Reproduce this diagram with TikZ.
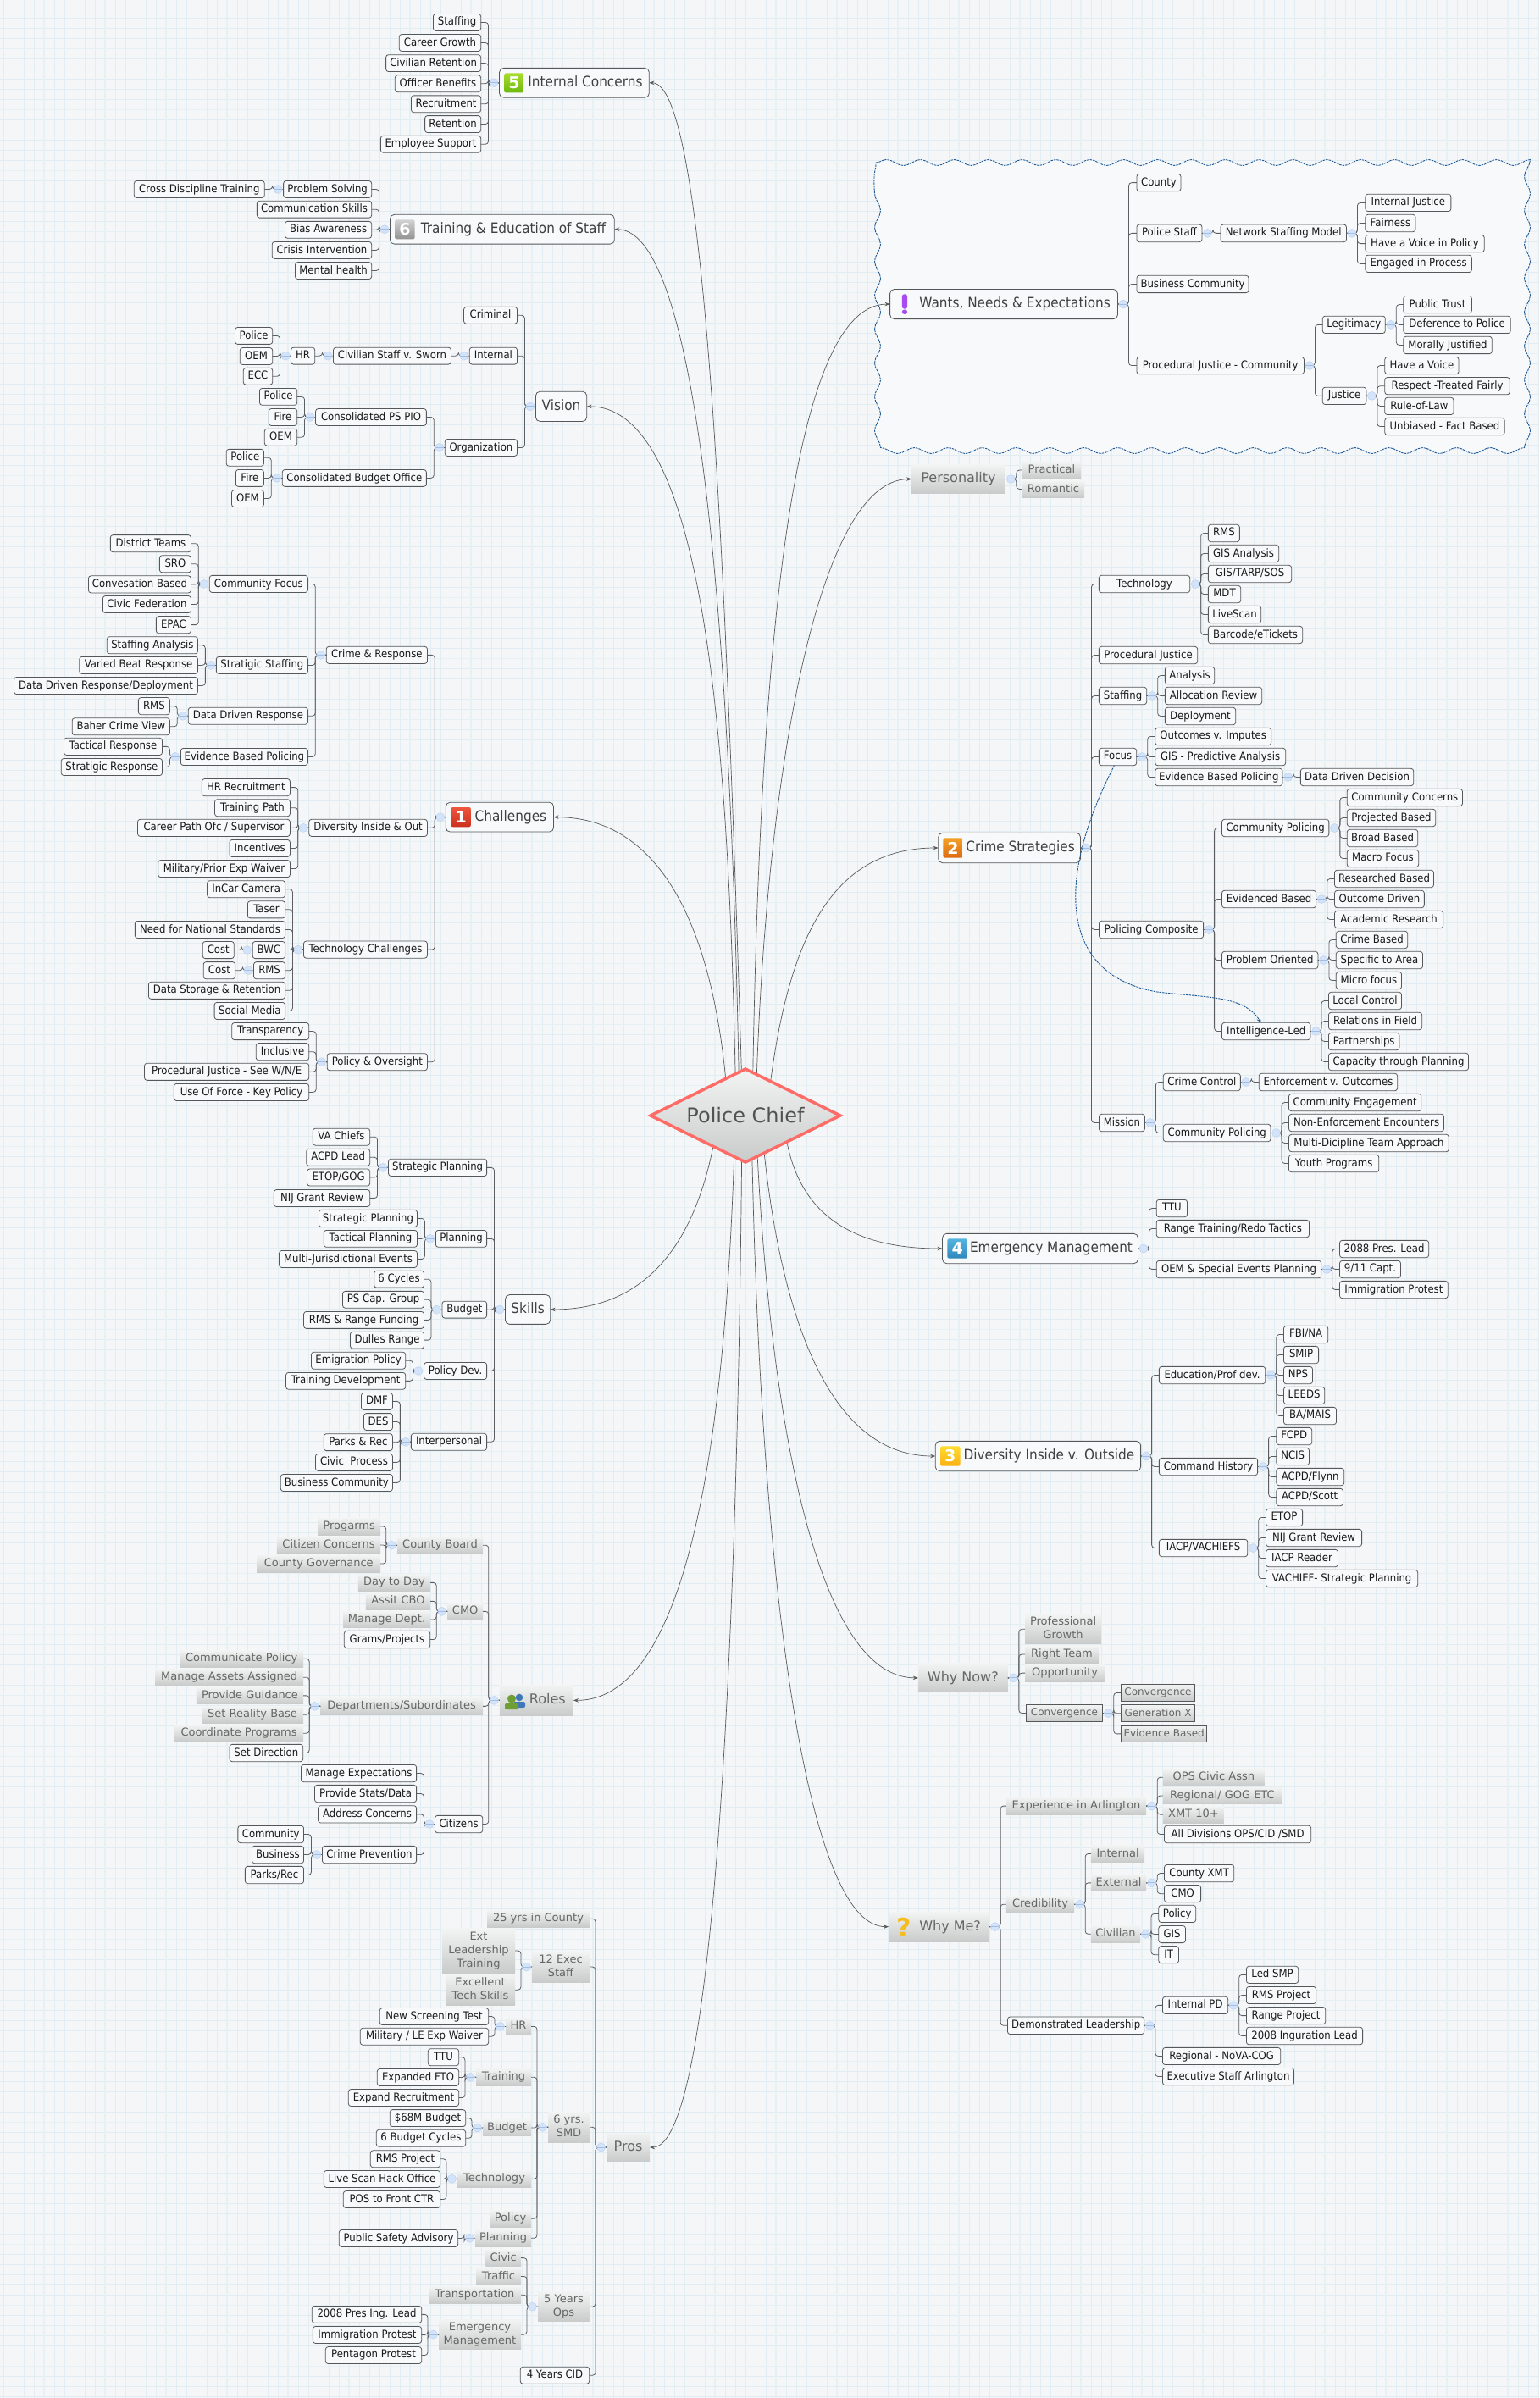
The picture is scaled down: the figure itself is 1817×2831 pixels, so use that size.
\documentclass[tikz,border=0pt]{standalone}
\usepackage{fontspec}
\usetikzlibrary{shapes.geometric,arrows.meta,calc,decorations.pathmorphing}
\setmainfont{DejaVu Sans}
\newfontfamily\tah[FakeStretch=0.9]{DejaVu Sans}
\newfontfamily\ver{DejaVu Sans}
\definecolor{bgc}{HTML}{F4F6F8}
\definecolor{gmin}{HTML}{E2EDF3}
\definecolor{gmaj}{HTML}{E7F0F5}
\definecolor{lnk}{HTML}{5C5F62}
\definecolor{cur}{HTML}{5A5A5A}
\definecolor{bdr}{HTML}{55585A}
\definecolor{gtx}{HTML}{666666}
\definecolor{gtop}{HTML}{F2F3F3}
\definecolor{gbot}{HTML}{C9CACA}
\definecolor{mfill}{HTML}{D3E3FA}
\definecolor{mdraw}{HTML}{BED3F2}
\definecolor{mbar}{HTML}{A3BFE4}
\definecolor{dsh}{HTML}{1F5A96}
\definecolor{chf}{HTML}{FF6B66}
\definecolor{exc}{HTML}{A64CF0}
\definecolor{grT}{HTML}{A8DC2C}\definecolor{grB}{HTML}{6DB80E}
\definecolor{gyT}{HTML}{D2D2D2}\definecolor{gyB}{HTML}{929292}
\definecolor{rdT}{HTML}{EE563F}\definecolor{rdB}{HTML}{CB301E}
\definecolor{orT}{HTML}{F5A025}\definecolor{orB}{HTML}{DC6A12}
\definecolor{blT}{HTML}{55B4DF}\definecolor{blB}{HTML}{2F88BD}
\definecolor{ylT}{HTML}{FFDC30}\definecolor{ylB}{HTML}{FAB012}
\definecolor{qmk}{HTML}{F6BC20}
\definecolor{pgn}{HTML}{6F9E35}\definecolor{pbl}{HTML}{3F78B8}
\tikzset{
  blk/.style={draw=bdr,line width=.8pt,rounded corners=3pt,fill=white!30!bgc,inner sep=0pt,outer sep=0pt,text=black!90,
     font=\tah\fontsize{13}{15}\selectfont,execute at begin node=\vphantom{Ag}},
  gry/.style={top color=gtop,bottom color=gbot,inner sep=0pt,outer sep=0pt,text=gtx,align=center,
     font=\ver\fontsize{13}{16}\selectfont,execute at begin node=\vphantom{Ag}},
  sqb/.style={gry,draw=bdr,line width=.8pt,font=\ver\fontsize{12}{14}\selectfont},
  tpb/.style={blk,font=\tah\fontsize{17}{20}\selectfont,text=black!75,rounded corners=5pt},
  tpg/.style={gry,font=\ver\fontsize{16}{19}\selectfont},
  numic/.style={rounded corners=2pt,inner sep=0pt,outer sep=0pt,text=white,font=\ver\bfseries\fontsize{19}{20}\selectfont},
  exic/.style={rounded corners=2.5pt,fill=exc,inner sep=0pt,outer sep=0pt},
  lk/.style={draw=lnk,line width=.8pt,rounded corners=3.5pt},
  mc/.style={circle,minimum size=10pt,inner sep=0pt,fill=mfill,draw=mdraw,line width=.5pt,
     path picture={\draw[mbar,line width=.8pt] (path picture bounding box.west) -- (path picture bounding box.east);}},
  curve/.style={draw=cur,line width=.7pt,-{Stealth[length=6pt,width=4.5pt]}},
}
\newcommand\setzoom[4]{\def\zX{#1}\def\zY{#2}\def\zSX{#3}\def\zSY{#4}}
\newcommand\bn[7]{%
  \pgfmathsetmacro\nXa{\zX+#3/\zSX}\pgfmathsetmacro\nXb{\zX+#4/\zSX}%
  \pgfmathsetmacro\nYa{\zY+#5/\zSY}\pgfmathsetmacro\nYb{\zY+#6/\zSY}%
  \pgfmathsetmacro\nW{\nXb-\nXa}\pgfmathsetmacro\nH{\nYb-\nYa}%
  \node[#1,minimum width=\nW pt,minimum height=\nH pt] (#2) at ({(\nXa+\nXb)/2},{(\nYa+\nYb)/2}) {#7};}
\newcommand\tl[2]{%
  \foreach \kid in {#2}{\draw[lk] (#1.west) -- ++(-13,0) |- (\kid.east);}%
  \node[mc] at ($(#1.west)+(-6.5,0)$) {};}
\newcommand\tr[2]{%
  \foreach \kid in {#2}{\draw[lk] (#1.east) -- ++(13,0) |- (\kid.west);}%
  \node[mc] at ($(#1.east)+(6.5,0)$) {};}
\newcommand\ico{\hspace*{26pt}}
\pgfdeclarelayer{back}
\pgfsetlayers{back,main}
\begin{document}
\begin{tikzpicture}[x=1pt,y=-1pt]
\useasboundingbox (0,0) rectangle (1817,2831);
\begin{pgfonlayer}{back}
\fill[bgc] (0,0) rectangle (1817,2831);
\foreach \gx in {4.33,16.33,...,1817}{\draw[gmin,line width=.6pt] (\gx,0) -- (\gx,2831);}
\foreach \gy in {9.67,21.67,...,2831}{\draw[gmin,line width=.6pt] (0,\gy) -- (1817,\gy);}
\foreach \gx in {52,124,...,1817}{\draw[gmaj,line width=1.4pt] (\gx,0) -- (\gx,2831);}
\foreach \gy in {57.67,129.67,...,2831}{\draw[gmaj,line width=1.4pt] (0,\gy) -- (1817,\gy);}
\draw[dsh,line width=.9pt,dash pattern=on 2.5pt off 1pt,fill=white!30!bgc,
      decorate,decoration={snake,segment length=40pt,amplitude=3.5pt}]
  (1034,192) -- (1794,192) -- (1794,526) -- (1034,526) -- cycle;
\end{pgfonlayer}

\node[diamond,aspect=2,inner sep=0pt,outer sep=0pt,minimum width=224pt,minimum height=110pt,draw=chf,line width=3.5pt,
  top color=gtop,bottom color=gbot,text=black!68,font=\ver\fontsize{24}{28}\selectfont] (chief) at (880,1317) {Police Chief};

% ---------- Internal Concerns / Training / Vision
\setzoom{140}{0}{2.24}{2.6133}
\bn{tpb}{ic}{1007}{1403}{210}{301}{\ico Internal Concerns}
\bn{numic,top color=grT,bottom color=grB}{ici}{1020}{1072}{226}{286}{5}
\bn{blk}{ic1}{832}{958}{43}{95}{Staffing}
\bn{blk}{ic2}{742}{958}{106}{158}{Career Growth}
\bn{blk}{ic3}{707}{958}{169}{221}{Civilian Retention}
\bn{blk}{ic4}{731}{958}{232}{284}{Officer Benefits}
\bn{blk}{ic5}{774}{958}{295}{347}{Recruitment}
\bn{blk}{ic6}{810}{958}{357}{409}{Retention}
\bn{blk}{ic7}{693}{958}{419}{471}{Employee Support}
\tl{ic}{ic1,ic2,ic3,ic4,ic5,ic6,ic7}
\bn{tpb}{te}{718}{1311}{662}{753}{\ico Training \& Education of Staff}
\bn{numic,top color=gyT,bottom color=gyB}{tei}{731}{783}{678}{738}{6}
\bn{blk}{te1}{436}{669}{558}{610}{Problem Solving}
\bn{blk}{te1a}{41}{386}{558}{610}{Cross Discipline Training}
\bn{blk}{te2}{366}{669}{620}{672}{Communication Skills}
\bn{blk}{te3}{440}{669}{683}{735}{Bias Awareness}
\bn{blk}{te4}{406}{669}{746}{798}{Crisis Intervention}
\bn{blk}{te5}{467}{669}{809}{861}{Mental health}
\tl{te}{te1,te2,te3,te4,te5}
\tl{te1}{te1a}
\bn{tpb}{vi}{1103}{1238}{1208}{1300}{Vision}
\bn{blk}{vi1}{913}{1054}{947}{999}{Criminal}
\bn{blk}{vi2}{928}{1054}{1072}{1124}{Internal}
\bn{blk}{vi2a}{568}{879}{1072}{1124}{Civilian Staff v. Sworn}
\bn{blk}{vi2b}{456}{519}{1072}{1124}{HR}
\bn{blk}{vi2c}{308}{407}{1010}{1062}{Police}
\bn{blk}{vi2d}{321}{407}{1073}{1125}{OEM}
\bn{blk}{vi2e}{330}{407}{1135}{1187}{ECC}
\bn{blk}{vi3}{863}{1054}{1355}{1407}{Organization}
\bn{blk}{vi3a}{521}{814}{1261}{1313}{Consolidated PS PIO}
\bn{blk}{vi3b}{373}{472}{1198}{1250}{Police}
\bn{blk}{vi3c}{397}{472}{1261}{1313}{Fire}
\bn{blk}{vi3d}{386}{472}{1323}{1375}{OEM}
\bn{blk}{vi4}{433}{814}{1449}{1501}{Consolidated Budget Office}
\bn{blk}{vi4a}{285}{384}{1386}{1438}{Police}
\bn{blk}{vi4b}{310}{384}{1449}{1501}{Fire}
\bn{blk}{vi4c}{299}{384}{1512}{1564}{OEM}
\tl{vi}{vi1,vi2,vi3}
\tl{vi2}{vi2a}\tl{vi2a}{vi2b}\tl{vi2b}{vi2c,vi2d,vi2e}
\tl{vi3}{vi3a,vi4}\tl{vi3a}{vi3b,vi3c,vi3d}\tl{vi4}{vi4a,vi4b,vi4c}

% ---------- Challenges
\setzoom{0}{620}{2.24}{2.24}
\bn{tpb}{ch}{1179}{1464}{733}{811}{\ico Challenges}
\bn{numic,top color=rdT,bottom color=rdB}{chi}{1193}{1245}{746}{798}{1}
\bn{blk}{c1}{863}{1130}{321}{366}{Crime \& Response}
\bn{blk}{c1a}{554}{814}{133}{178}{Community Focus}
\bn{blk}{c1a1}{292}{505}{26}{71}{District Teams}
\bn{blk}{c1a2}{422}{505}{80}{125}{SRO}
\bn{blk}{c1a3}{234}{505}{134}{179}{Convesation Based}
\bn{blk}{c1a4}{272}{505}{187}{232}{Civic Federation}
\bn{blk}{c1a5}{413}{505}{241}{286}{EPAC}
\bn{blk}{c1b}{572}{814}{348}{393}{Stratigic Staffing}
\bn{blk}{c1b1}{283}{523}{295}{340}{Staffing Analysis}
\bn{blk}{c1b2}{210}{523}{348}{393}{Varied Beat Response}
\bn{blk}{c1b3}{37}{523}{402}{447}{Data Driven Response/Deployment}
\bn{blk}{c1c}{498}{814}{482}{527}{Data Driven Response}
\bn{blk}{c1c1}{366}{449}{456}{501}{RMS}
\bn{blk}{c1c2}{191}{449}{510}{555}{Baher Crime View}
\bn{blk}{c1d}{478}{814}{590}{635}{Evidence Based Policing}
\bn{blk}{c1d1}{169}{429}{563}{608}{Tactical Response}
\bn{blk}{c1d2}{162}{429}{617}{662}{Stratigic Response}
\bn{blk}{c2}{817}{1130}{778}{823}{Diversity Inside \& Out}
\bn{blk}{c2a}{534}{767}{671}{716}{HR Recruitment}
\bn{blk}{c2b}{568}{767}{725}{770}{Training Path}
\bn{blk}{c2c}{364}{767}{778}{823}{Career Path Ofc / Supervisor}
\bn{blk}{c2d}{607}{767}{832}{877}{Incentives}
\bn{blk}{c2e}{418}{767}{886}{931}{Military/Prior Exp Waiver}
\bn{blk}{c3}{803}{1130}{1100}{1145}{Technology Challenges}
\bn{blk}{c3a}{548}{754}{940}{985}{InCar Camera}
\bn{blk}{c3b}{655}{754}{994}{1039}{Taser}
\bn{blk}{c3c}{357}{754}{1047}{1092}{Need for National Standards}
\bn{blk}{c3d}{668}{754}{1101}{1146}{BWC}
\bn{blk}{c3d1}{536}{619}{1101}{1146}{Cost}
\bn{blk}{c3e}{671}{754}{1155}{1200}{RMS}
\bn{blk}{c3e1}{538}{622}{1155}{1200}{Cost}
\bn{blk}{c3f}{393}{754}{1208}{1253}{Data Storage \& Retention}
\bn{blk}{c3g}{567}{754}{1262}{1307}{Social Media}
\bn{blk}{c4}{865}{1130}{1397}{1442}{Policy \& Oversight}
\bn{blk}{c4a}{613}{817}{1316}{1361}{Transparency}
\bn{blk}{c4b}{677}{817}{1370}{1415}{Inclusive}
\bn{blk}{c4c}{382}{817}{1423}{1468}{Procedural Justice - See W/N/E}
\bn{blk}{c4d}{460}{817}{1477}{1522}{Use Of Force - Key Policy}
\tl{ch}{c1,c2,c3,c4}
\tl{c1}{c1a,c1b,c1c,c1d}
\tl{c1a}{c1a1,c1a2,c1a3,c1a4,c1a5}\tl{c1b}{c1b1,c1b2,c1b3}\tl{c1c}{c1c1,c1c2}\tl{c1d}{c1d1,c1d2}
\tl{c2}{c2a,c2b,c2c,c2d,c2e}
\tl{c3}{c3a,c3b,c3c,c3d,c3e,c3f,c3g}\tl{c3d}{c3d1}\tl{c3e}{c3e1}
\tl{c4}{c4a,c4b,c4c,c4d}

% ---------- Skills
\setzoom{180}{1320}{2.24}{2.6133}
\bn{tpb}{sk}{933}{1052}{545}{636}{Skills}
\bn{blk}{s1}{624}{884}{126}{179}{Strategic Planning}
\bn{blk}{s1a}{424}{575}{32}{84}{VA Chiefs}
\bn{blk}{s1b}{407}{575}{95}{147}{ACPD Lead}
\bn{blk}{s1c}{409}{575}{157}{209}{ETOP/GOG}
\bn{blk}{s1d}{321}{575}{221}{273}{NIJ Grant Review}
\bn{blk}{s2}{749}{884}{346}{398}{Planning}
\bn{blk}{s2a}{440}{700}{283}{336}{Strategic Planning}
\bn{blk}{s2b}{453}{700}{346}{398}{Tactical Planning}
\bn{blk}{s2c}{335}{700}{409}{461}{Multi-Jurisdictional Events}
\bn{blk}{s3}{766}{884}{565}{617}{Budget}
\bn{blk}{s3a}{586}{718}{471}{523}{6 Cycles}
\bn{blk}{s3b}{503}{718}{534}{586}{PS Cap. Group}
\bn{blk}{s3c}{400}{718}{597}{649}{RMS \& Range Funding}
\bn{blk}{s3d}{523}{718}{659}{711}{Dulles Range}
\bn{blk}{s4}{718}{884}{754}{806}{Policy Dev.}
\bn{blk}{s4a}{420}{669}{722}{774}{Emigration Policy}
\bn{blk}{s4b}{353}{669}{785}{837}{Training Development}
\bn{blk}{s5}{684}{884}{973}{1025}{Interpersonal}
\bn{blk}{s5a}{552}{635}{848}{900}{DMF}
\bn{blk}{s5b}{559}{635}{911}{963}{DES}
\bn{blk}{s5c}{453}{635}{974}{1026}{Parks \& Rec}
\bn{blk}{s5d}{431}{635}{1036}{1088}{Civic\ \ Process}
\bn{blk}{s5e}{339}{635}{1099}{1151}{Business Community}
\tl{sk}{s1,s2,s3,s4,s5}
\tl{s1}{s1a,s1b,s1c,s1d}\tl{s2}{s2a,s2b,s2c}\tl{s3}{s3a,s3b,s3c,s3d}\tl{s4}{s4a,s4b}\tl{s5}{s5a,s5b,s5c,s5d,s5e}

% ---------- Roles
\bn{gry}{r1a}{437}{603}{1233}{1286}{Progarms}
\setzoom{180}{1810}{2.24}{3}
\bn{tpg}{ro}{918}{1113}{539}{645}{\ico Roles}
\bn{gry}{r1}{647}{874}{13}{72}{County Board}
\bn{gry}{r1b}{329}{603}{12}{72}{Citizen Concerns}
\bn{gry}{r1c}{276}{603}{78}{138}{County Governance}
\bn{gry}{r2}{780}{874}{248}{306}{CMO}
\bn{gry}{r2a}{544}{735}{146}{204}{Day to Day}
\bn{gry}{r2b}{564}{735}{212}{270}{Assit CBO}
\bn{gry}{r2c}{504}{735}{277}{335}{Manage Dept.}
\bn{blk}{r2d}{507}{734}{346}{407}{Grams/Projects}
\bn{gry}{r3}{444}{874}{583}{643}{Departments/Subordinates}
\bn{gry}{r3a}{72}{399}{415}{474}{Communicate Policy}
\bn{gry}{r3b}{7}{399}{481}{540}{Manage Assets Assigned}
\bn{gry}{r3c}{116}{399}{546}{605}{Provide Guidance}
\bn{gry}{r3d}{130}{399}{613}{672}{Set Reality Base}
\bn{gry}{r3e}{58}{399}{679}{738}{Coordinate Programs}
\bn{blk}{r3f}{204}{398}{748}{809}{Set Direction}
\bn{blk}{r4}{747}{873}{1000}{1061}{Citizens}
\bn{blk}{r4a}{393}{698}{820}{881}{Manage Expectations}
\bn{blk}{r4b}{429}{698}{892}{953}{Provide Stats/Data}
\bn{blk}{r4c}{438}{698}{965}{1026}{Address Concerns}
\bn{blk}{r4d}{449}{698}{1108}{1169}{Crime Prevention}
\bn{blk}{r4d1}{226}{400}{1036}{1097}{Community}
\bn{blk}{r4d2}{263}{400}{1108}{1169}{Business}
\bn{blk}{r4d3}{245}{400}{1180}{1241}{Parks/Rec}
\tl{ro}{r1,r2,r3,r4}
\tl{r1}{r1a,r1b,r1c}\tl{r2}{r2a,r2b,r2c,r2d}\tl{r3}{r3a,r3b,r3c,r3d,r3e,r3f}
\tl{r4}{r4a,r4b,r4c,r4d}\tl{r4d}{r4d1,r4d2,r4d3}
% people icon
\fill[pbl,rounded corners=2pt] (606,2009) rectangle (620,2016);
\fill[pbl] (613,2004) circle (4.3pt);
\fill[pgn,rounded corners=2pt] (596,2011) rectangle (612,2018);
\fill[pgn] (604,2005.5) circle (5pt);

% ---------- Pros
\setzoom{340}{2240}{3}{2.6576}
\bn{tpg}{pr}{1128}{1281}{739}{829}{Pros}
\bn{gry}{p1}{705}{1068}{41}{93}{25 yrs in County}
\bn{gry}{p2}{864}{1068}{170}{266}{12 Exec\\Staff}
\bn{gry}{p2a}{546}{804}{98}{237}{Ext\\Leadership\\Training}
\bn{gry}{p2b}{558}{804}{242}{338}{Excellent\\Tech Skills}
\bn{gry}{p3}{921}{1068}{674}{768}{6 yrs.\\SMD}
\bn{gry}{p3a}{771}{861}{379}{431}{HR}
\bn{blk}{p3a1}{325}{710}{347}{400}{New Screening Test}
\bn{blk}{p3a2}{256}{710}{410}{463}{Military / LE Exp Waiver}
\bn{gry}{p3b}{666}{861}{538}{590}{Training}
\bn{blk}{p3b1}{496}{605}{475}{528}{TTU}
\bn{blk}{p3b2}{316}{605}{538}{591}{Expanded FTO}
\bn{blk}{p3b3}{214}{605}{602}{655}{Expand Recruitment}
\bn{gry}{p3c}{690}{861}{697}{749}{Budget}
\bn{blk}{p3c1}{361}{629}{666}{719}{\$68M Budget}
\bn{blk}{p3c2}{313}{629}{729}{782}{6 Budget Cycles}
\bn{gry}{p3d}{600}{861}{857}{909}{Technology}
\bn{blk}{p3d1}{292}{539}{794}{847}{RMS Project}
\bn{blk}{p3d2}{127}{539}{857}{910}{Live Scan Hack Office}
\bn{blk}{p3d3}{196}{539}{921}{974}{POS to Front CTR}
\bn{gry}{p3e}{714}{861}{982}{1034}{Policy}
\bn{gry}{p3f}{663}{861}{1043}{1095}{Planning}
\bn{blk}{p3f1}{181}{602}{1043}{1096}{Public Safety Advisory}
\bn{gry}{p4}{885}{1068}{1237}{1331}{5 Years\\Ops}
\bn{gry}{p4a}{700}{825}{1105}{1157}{Civic}
\bn{gry}{p4b}{666}{825}{1163}{1215}{Traffic}
\bn{gry}{p4c}{498}{825}{1221}{1273}{Transportation}
\bn{gry}{p4d}{534}{825}{1324}{1419}{Emergency\\Management}
\bn{blk}{p4d1}{85}{473}{1282}{1335}{2008 Pres Ing. Lead}
\bn{blk}{p4d2}{88}{473}{1346}{1399}{Immigration Protest}
\bn{blk}{p4d3}{133}{473}{1410}{1463}{Pentagon Protest}
\bn{blk}{p5}{823}{1067}{1473}{1526}{4 Years CID}
\tl{pr}{p1,p2,p3,p4,p5}
\tl{p2}{p2a,p2b}
\tl{p3}{p3a,p3b,p3c,p3d,p3e,p3f}
\tl{p3a}{p3a1,p3a2}\tl{p3b}{p3b1,p3b2,p3b3}\tl{p3c}{p3c1,p3c2}\tl{p3d}{p3d1,p3d2,p3d3}\tl{p3f}{p3f1}
\tl{p4}{p4a,p4b,p4c,p4d}\tl{p4d}{p4d1,p4d2,p4d3}

% ---------- Wants / Personality
\setzoom{1020}{170}{1.96}{2.9037}
\bn{tpb}{wn}{60}{587}{498}{600}{\ico Wants, Needs \& Expectations}
\bn{exic}{wnb}{88}{100}{515}{565}{}
\bn{exic}{wnd}{88}{100}{568}{583}{}
\bn{blk}{w1}{631}{733}{103}{162}{County}
\bn{blk}{w2}{631}{782}{276}{336}{Police Staff}
\bn{blk}{w2a}{825}{1116}{276}{336}{Network Staffing Model}
\bn{blk}{w2a1}{1160}{1358}{172}{231}{Internal Justice}
\bn{blk}{w2a2}{1160}{1276}{242}{301}{Fairness}
\bn{blk}{w2a3}{1160}{1435}{312}{371}{Have a Voice in Policy}
\bn{blk}{w2a4}{1160}{1406}{381}{440}{Engaged in Process}
\bn{blk}{w3}{631}{890}{451}{510}{Business Community}
\bn{blk}{w4}{631}{1018}{730}{789}{Procedural Justice - Community}
\bn{blk}{w4a}{1061}{1206}{590}{649}{Legitimacy}
\bn{blk}{w4a1}{1248}{1406}{521}{580}{Public Trust}
\bn{blk}{w4a2}{1248}{1496}{590}{649}{Deference to Police}
\bn{blk}{w4a3}{1248}{1453}{660}{719}{Morally Justified}
\bn{blk}{w4b}{1061}{1162}{834}{893}{Justice}
\bn{blk}{w4b1}{1205}{1376}{730}{789}{Have a Voice}
\bn{blk}{w4b2}{1205}{1494}{800}{859}{Respect -Treated Fairly}
\bn{blk}{w4b3}{1205}{1364}{869}{928}{Rule-of-Law}
\bn{blk}{w4b4}{1205}{1482}{939}{998}{Unbiased - Fact Based}
\tr{wn}{w1,w2,w3,w4}
\tr{w2}{w2a}\tr{w2a}{w2a1,w2a2,w2a3,w2a4}
\tr{w4}{w4a,w4b}\tr{w4a}{w4a1,w4a2,w4a3}\tr{w4b}{w4b1,w4b2,w4b3,w4b4}
\bn{tpg}{pe}{110}{327}{1099}{1198}{Personality}
\bn{gry}{pe1}{366}{502}{1090}{1146}{Practical}
\bn{gry}{pe2}{366}{510}{1155}{1211}{Romantic}
\tr{pe}{pe1,pe2}

% ---------- Crime Strategies
\setzoom{1270}{610}{3}{3}
\bn{blk}{g1}{82}{404}{208}{269}{Technology}
\bn{blk}{g1a}{469}{580}{28}{89}{RMS}
\bn{blk}{g1b}{469}{719}{100}{161}{GIS Analysis}
\bn{blk}{g1c}{469}{764}{172}{233}{GIS/TARP/SOS}
\bn{blk}{g1d}{469}{584}{244}{305}{MDT}
\bn{blk}{g1e}{469}{656}{316}{377}{LiveScan}
\bn{blk}{g1f}{469}{803}{388}{449}{Barcode/eTickets}
\bn{blk}{g2}{82}{431}{460}{521}{Procedural Justice}
\bn{blk}{g3}{82}{251}{604}{665}{Staffing}
\bn{blk}{g3a}{316}{491}{532}{593}{Analysis}
\bn{blk}{g3b}{316}{659}{604}{665}{Allocation Review}
\bn{blk}{g3c}{316}{566}{676}{737}{Deployment}
\bn{blk}{fo}{82}{215}{820}{881}{Focus}
\bn{blk}{g4a}{281}{692}{748}{809}{Outcomes v. Imputes}
\bn{blk}{g4b}{281}{743}{820}{881}{GIS - Predictive Analysis}
\bn{blk}{g4c}{281}{732}{892}{953}{Evidence Based Policing}
\bn{blk}{g4d}{796}{1196}{892}{953}{Data Driven Decision}
\setzoom{1080}{900}{2.24}{3}
\bn{tpb}{cs}{62}{438}{250}{356}{\ico Crime Strategies}
\bn{numic,top color=orT,bottom color=orB}{csi}{75}{127}{268}{338}{2}
\bn{blk}{g5}{487}{763}{562}{623}{Policing Composite}
\bn{blk}{g5a}{812}{1095}{202}{263}{Community Policing}
\bn{blk}{g5a1}{1143}{1448}{94}{155}{Community Concerns}
\bn{blk}{g5a2}{1143}{1377}{166}{227}{Projected Based}
\bn{blk}{g5a3}{1143}{1330}{238}{299}{Broad Based}
\bn{blk}{g5a4}{1143}{1332}{310}{371}{Macro Focus}
\bn{blk}{g5b}{812}{1061}{454}{515}{Evidenced Based}
\bn{blk}{g5b1}{1110}{1372}{382}{443}{Researched Based}
\bn{blk}{g5b2}{1110}{1347}{454}{515}{Outcome Driven}
\bn{blk}{g5b3}{1110}{1397}{526}{587}{Academic Research}
\bn{blk}{g5c}{812}{1066}{670}{731}{Problem Oriented}
\bn{blk}{g5c1}{1114}{1303}{598}{659}{Crime Based}
\bn{blk}{g5c2}{1114}{1343}{670}{731}{Specific to Area}
\bn{blk}{g5c3}{1114}{1287}{742}{803}{Micro focus}
\bn{blk}{il}{812}{1046}{922}{983}{Intelligence-Led}
\bn{blk}{g5d1}{1094}{1287}{814}{875}{Local Control}
\bn{blk}{g5d2}{1094}{1341}{886}{947}{Relations in Field}
\bn{blk}{g5d3}{1094}{1281}{958}{1019}{Partnerships}
\bn{blk}{g5d4}{1094}{1464}{1030}{1091}{Capacity through Planning}
\bn{blk}{g6}{487}{608}{1246}{1307}{Mission}
\bn{blk}{g6a}{657}{861}{1102}{1163}{Crime Control}
\bn{blk}{g6a1}{910}{1276}{1102}{1163}{Enforcement v. Outcomes}
\bn{blk}{g6b}{657}{941}{1282}{1343}{Community Policing}
\bn{blk}{g6b1}{989}{1339}{1174}{1235}{Community Engagement}
\bn{blk}{g6b2}{989}{1399}{1246}{1307}{Non-Enforcement Encounters}
\bn{blk}{g6b3}{989}{1412}{1318}{1379}{Multi-Dicipline Team Approach}
\bn{blk}{g6b4}{989}{1227}{1390}{1451}{Youth Programs}
\tr{cs}{g1,g2,g3,fo,g5,g6}
\tr{g1}{g1a,g1b,g1c,g1d,g1e,g1f}\tr{g3}{g3a,g3b,g3c}\tr{fo}{g4a,g4b,g4c}\tr{g4c}{g4d}
\tr{g5}{g5a,g5b,g5c,il}\tr{g5a}{g5a1,g5a2,g5a3,g5a4}\tr{g5b}{g5b1,g5b2,g5b3}\tr{g5c}{g5c1,g5c2,g5c3}\tr{il}{g5d1,g5d2,g5d3,g5d4}
\tr{g6}{g6a,g6b}\tr{g6a}{g6a1}\tr{g6b}{g6b1,g6b2,g6b3,g6b4}
\coordinate (dm) at (1366,1171);
\draw[dsh,line width=.9pt,dash pattern=on 2.5pt off 1pt,-{Stealth[length=6pt,width=5pt]}]
  ($(fo.south)+(-4,0)$) .. controls (1250,1030) and (1245,1150) .. (dm) .. controls (1425,1178) and (1468,1175) .. ($(il.north)+(-6,0)$);

% ---------- Emergency / Diversity
\setzoom{1090}{1390}{2.529}{3}
\bn{tpb}{em}{57}{641}{199}{305}{\ico Emergency Management}
\bn{numic,top color=blT,bottom color=blB}{emi}{72}{131}{217}{287}{4}
\bn{blk}{e1}{696}{788}{79}{140}{TTU}
\bn{blk}{e2}{696}{1152}{151}{212}{Range Training/Redo Tactics}
\bn{blk}{e3}{696}{1188}{295}{356}{OEM \& Special Events Planning}
\bn{blk}{e3a}{1243}{1509}{223}{284}{2088 Pres. Lead}
\bn{blk}{e3b}{1243}{1425}{295}{356}{9/11 Capt.}
\bn{blk}{e3c}{1243}{1566}{367}{428}{Immigration Protest}
\tr{em}{e1,e2,e3}\tr{e3}{e3a,e3b,e3c}
\bn{tpb}{dv}{36}{649}{934}{1040}{\ico Diversity Inside v. Outside}
\bn{numic,top color=ylT,bottom color=ylB}{dvi}{51}{110}{952}{1022}{3}
\bn{blk}{d1}{704}{1021}{670}{731}{Education/Prof dev.}
\bn{blk}{d1a}{1076}{1208}{526}{587}{FBI/NA}
\bn{blk}{d1b}{1076}{1180}{598}{659}{SMIP}
\bn{blk}{d1c}{1076}{1162}{670}{731}{NPS}
\bn{blk}{d1d}{1076}{1198}{742}{803}{LEEDS}
\bn{blk}{d1e}{1076}{1233}{814}{875}{BA/MAIS}
\bn{blk}{d2}{704}{998}{994}{1055}{Command History}
\bn{blk}{d2a}{1054}{1160}{886}{947}{FCPD}
\bn{blk}{d2b}{1054}{1152}{958}{1019}{NCIS}
\bn{blk}{d2c}{1054}{1256}{1030}{1091}{ACPD/Flynn}
\bn{blk}{d2d}{1054}{1253}{1102}{1163}{ACPD/Scott}
\bn{blk}{d3}{704}{968}{1282}{1343}{IACP/VACHIEFS}
\bn{blk}{d3a}{1023}{1132}{1174}{1235}{ETOP}
\bn{blk}{d3b}{1023}{1309}{1246}{1307}{NIJ Grant Review}
\bn{blk}{d3c}{1023}{1238}{1318}{1379}{IACP Reader}
\bn{blk}{d3d}{1023}{1476}{1390}{1451}{VACHIEF- Strategic Planning}
\tr{dv}{d1,d2,d3}\tr{d1}{d1a,d1b,d1c,d1d,d1e}\tr{d2}{d2a,d2b,d2c,d2d}\tr{d3}{d3a,d3b,d3c,d3d}

% ---------- Why Now / Why Me
\setzoom{1040}{1880}{2.529}{2.529}
\bn{tpg}{wy}{111}{379}{212}{298}{Why Now?}
\bn{gry}{y1}{430}{658}{66}{153}{Professional\\Growth}
\bn{gry}{y2}{430}{650}{159}{210}{Right Team}
\bn{gry}{y3}{430}{668}{215}{266}{Opportunity}
\bn{sqb}{y4}{433}{662}{335}{386}{Convergence}
\bn{sqb}{y4a}{717}{937}{274}{325}{Convergence}
\bn{sqb}{y4b}{717}{937}{336}{386}{Generation X}
\bn{sqb}{y4c}{717}{973}{397}{447}{Evidence Based}
\tr{wy}{y1,y2,y3,y4}\tr{y4}{y4a,y4b,y4c}
\bn{tpg}{wm}{23}{324}{954}{1042}{\ico Why Me?}
\bn{inner sep=0pt,text=qmk,font=\ver\bfseries\fontsize{30}{32}\selectfont}{wmi}{45}{90}{968}{1030}{?}
\bn{gry}{m1}{374}{792}{612}{663}{Experience in Arlington}
\bn{gry}{m1a}{842}{1145}{527}{577}{OPS Civic Assn}
\bn{gry}{m1b}{842}{1196}{582}{632}{Regional/ GOG ETC}
\bn{gry}{m1c}{842}{1024}{638}{688}{XMT 10+}
\bn{blk}{m1d}{846}{1284}{696}{748}{All Divisions OPS/CID /SMD}
\bn{gry}{m2}{374}{577}{906}{956}{Credibility}
\bn{gry}{m2a}{627}{787}{755}{805}{Internal}
\bn{gry}{m2b}{627}{792}{842}{892}{External}
\bn{blk}{m2b1}{846}{1054}{813}{864}{County XMT}
\bn{blk}{m2b2}{846}{955}{874}{925}{CMO}
\bn{gry}{m2c}{627}{774}{995}{1045}{Civilian}
\bn{blk}{m2c1}{829}{940}{934}{985}{Policy}
\bn{blk}{m2c2}{829}{909}{995}{1046}{GIS}
\bn{blk}{m2c3}{829}{889}{1056}{1107}{IT}
\bn{blk}{m3}{378}{786}{1267}{1319}{Demonstrated Leadership}
\bn{blk}{m3a}{841}{1036}{1207}{1258}{Internal PD}
\bn{blk}{m3a1}{1091}{1246}{1116}{1167}{Led SMP}
\bn{blk}{m3a2}{1091}{1299}{1177}{1228}{RMS Project}
\bn{blk}{m3a3}{1091}{1327}{1238}{1289}{Range Project}
\bn{blk}{m3a4}{1091}{1438}{1298}{1350}{2008 Inguration Lead}
\bn{blk}{m3b}{841}{1193}{1359}{1410}{Regional - NoVA-COG}
\bn{blk}{m3c}{841}{1233}{1420}{1471}{Executive Staff Arlington}
\tr{wm}{m1,m2,m3}\tr{m1}{m1a,m1b,m1c,m1d}\tr{m2}{m2a,m2b,m2c}\tr{m2b}{m2b1,m2b2}\tr{m2c}{m2c1,m2c2,m2c3}
\tr{m3}{m3a,m3b,m3c}\tr{m3a}{m3a1,m3a2,m3a3,m3a4}

% ---------- main curves
\begin{pgfonlayer}{back}
\draw[curve] ($(chief.center)+(-3,0)$) .. controls (858,700) and (835,98) .. (ic.east);
\draw[curve] ($(chief.center)+(-7,0)$) .. controls (865,800) and (830,271) .. (te.east);
\draw[curve] ($(chief.center)+(-11,0)$) .. controls (862,900) and (835,480) .. (vi.east);
\draw[curve] ($(chief.center)+(-20,0)$) .. controls (850,1140) and (800,965) .. (ch.east);
\draw[curve] ($(chief.center)+(-32,0)$) .. controls (830,1450) and (775,1546) .. (sk.east);
\draw[curve] ($(chief.center)+(-12,0)$) .. controls (860,1650) and (822,2008) .. (ro.east);
\draw[curve] ($(chief.center)+(-4,0)$) .. controls (872,1900) and (845,2535) .. (pr.east);
\draw[curve] ($(chief.center)+(8,0)$) .. controls (895,800) and (930,359) .. (wn.west);
\draw[curve] ($(chief.center)+(12,0)$) .. controls (900,950) and (960,566) .. (pe.west);
\draw[curve] ($(chief.center)+(25,0)$) .. controls (925,1120) and (975,1001) .. (cs.west);
\draw[curve] ($(chief.center)+(45,0)$) .. controls (932,1420) and (990,1474) .. (em.west);
\draw[curve] ($(chief.center)+(18,0)$) .. controls (915,1530) and (970,1719) .. (dv.west);
\draw[curve] ($(chief.center)+(12,0)$) .. controls (905,1650) and (960,1981) .. (wy.west);
\draw[curve] ($(chief.center)+(7,0)$) .. controls (895,1850) and (950,2275) .. (wm.west);
\end{pgfonlayer}
\end{tikzpicture}
\end{document}
